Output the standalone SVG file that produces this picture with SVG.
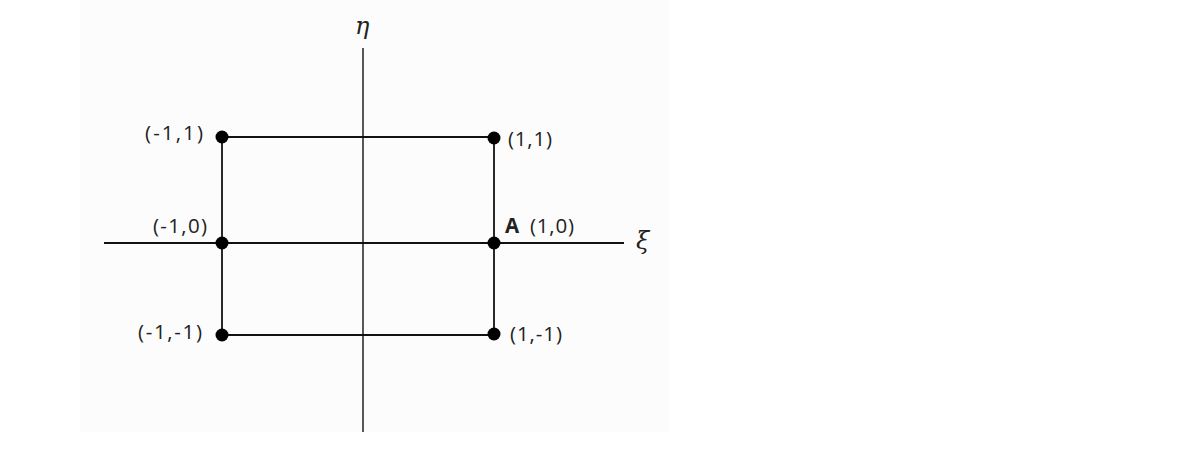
<svg xmlns="http://www.w3.org/2000/svg" width="1196" height="467" viewBox="0 0 1196 467">
<style>
.lbl{font-family:"Open Sans","Noto Sans",sans-serif;font-size:20.5px;fill:#222}
.greek{font-family:"DejaVu Serif","Liberation Serif",serif;font-style:italic;font-size:24px;fill:#222}
.ln{stroke:#111;fill:none}
.dot{fill:#000}
</style>
<rect x="0" y="0" width="1196" height="467" fill="#ffffff"/>
<rect x="80" y="0" width="590" height="432" fill="#fcfcfc"/>
<g id="connectors">
<line class="ln" x1="363" y1="48" x2="363" y2="432" stroke-width="1.4"/>
<line class="ln" x1="104" y1="243" x2="624" y2="243" stroke-width="1.8"/>
<line class="ln" x1="222" y1="137" x2="494" y2="137" stroke-width="1.8"/>
<line class="ln" x1="222" y1="335" x2="494" y2="335" stroke-width="1.8"/>
<line class="ln" x1="222" y1="137" x2="222" y2="335" stroke-width="1.8"/>
<line class="ln" x1="494" y1="137" x2="494" y2="335" stroke-width="1.8"/>
</g>
<g id="axis-eta"><text class="greek" x="355" y="34">η</text></g>
<g id="axis-xi"><text class="greek" x="636" y="249">ξ</text></g>
<g id="n-m1-1"><circle class="dot" cx="222" cy="137" r="6.5"/><text class="lbl" x="145" y="140" textLength="58" lengthAdjust="spacing">(-1,1)</text></g>
<g id="n-1-1"><circle class="dot" cx="494" cy="138" r="6.5"/><text class="lbl" x="508" y="146" textLength="44" lengthAdjust="spacing">(1,1)</text></g>
<g id="n-m1-0"><circle class="dot" cx="222" cy="243" r="6.5"/><text class="lbl" x="153" y="233" textLength="54" lengthAdjust="spacing">(-1,0)</text></g>
<g id="n-A"><circle class="dot" cx="494" cy="243" r="6.5"/><text class="lbl" x="505" y="233" font-weight="bold">A</text><text class="lbl" x="530" y="233" textLength="44" lengthAdjust="spacing">(1,0)</text></g>
<g id="n-m1-m1"><circle class="dot" cx="222" cy="335" r="6.5"/><text class="lbl" x="138" y="339" textLength="64" lengthAdjust="spacing">(-1,-1)</text></g>
<g id="n-1-m1"><circle class="dot" cx="494" cy="334" r="6.5"/><text class="lbl" x="510" y="341" textLength="52" lengthAdjust="spacing">(1,-1)</text></g>
</svg>
